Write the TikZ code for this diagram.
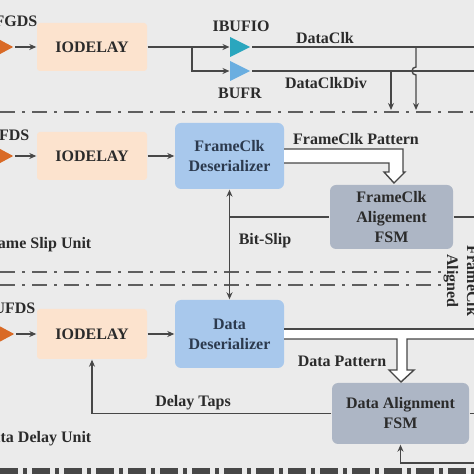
\documentclass[tikz,border=0pt]{standalone}
\usepackage{fontspec}
\setmainfont{Liberation Serif}
\usepackage{xcolor}
\usetikzlibrary{shapes.geometric,arrows.meta,positioning}

\definecolor{bgGray}{HTML}{EBEBEB}
\definecolor{ioFill}{HTML}{FCE3CE}
\definecolor{desFill}{HTML}{A8C8EC}
\definecolor{fsmFill}{HTML}{ADB6C5}
\definecolor{inOrange}{HTML}{D96A26}
\definecolor{ioTeal}{HTML}{2AA6BE}
\definecolor{rBlue}{HTML}{6AAEE0}
\definecolor{wireGray}{HTML}{474747}
\definecolor{sepGray}{HTML}{5E5E5E}
\definecolor{txtDark}{HTML}{2B2B2B}
\definecolor{txtBlue}{HTML}{2C3A4E}

\begin{document}
\begin{tikzpicture}[x=1pt,y=1pt,>={Stealth[length=7pt,width=6pt]},line width=1.4pt,draw=wireGray,
    font=\bfseries\fontsize{16}{20}\selectfont,
    io node/.style={rectangle,rounded corners=3pt,fill=ioFill,text=txtDark,minimum width=110pt,minimum height=48pt},
    des node/.style={rectangle,rounded corners=6pt,fill=desFill,text=txtBlue,align=center,minimum width=109pt,minimum height=66pt},
    fsm node/.style={rectangle,rounded corners=6pt,fill=fsmFill,text=txtDark,align=center},
    in buf/.style={isosceles triangle,isosceles triangle stretches,fill=inOrange,minimum width=30pt,minimum height=28pt,inner sep=0pt,anchor=apex},
    clk buf/.style={isosceles triangle,isosceles triangle stretches,minimum width=20pt,minimum height=20pt,inner sep=0pt,anchor=apex},
    lbl/.style={text=txtDark,inner sep=0pt},
    sep line/.style={draw=sepGray,line width=1.5pt,dash pattern=on 15pt off 7pt on 3pt off 7pt}]

            \fill[bgGray] (0,0) rectangle (474,474);
            \useasboundingbox (0,0) rectangle (474,474);

            % blocks
            \node[io node] (1) at (92,427) {IODELAY};
            \node[io node] (2) [below of = 1, node distance=109pt] {IODELAY};
            \node[io node] (3) [below of = 2, node distance=178pt, minimum height=50pt] {IODELAY};
            \node[des node] (4) [right of = 2, node distance=137.5pt] {FrameClk\\Deserializer};
            \node[des node] (5) [right of = 3, node distance=137.5pt, minimum height=68pt] {Data\\Deserializer};
            \node[fsm node, minimum width=123pt, minimum height=64pt] (6) at (391.5,257) {FrameClk\\Aligement\\FSM};
            \node[fsm node, minimum width=137pt, minimum height=61pt] (7) at (400.5,60.5) {Data Alignment\\FSM};

            % buffers
            \node[clk buf, fill=ioTeal] (8) at (252,427) {};
            \node[clk buf, fill=rBlue] (9) at (252,403) {};
            \node[in buf] (10) at (15,427) {};
            \node[in buf] (11) at (15,318) {};
            \node[in buf] (12) at (16,140) {};

            % labels
            \node[lbl, anchor=east] (13) at (38,453) {IBUFGDS};
            \node[lbl, anchor=east] (14) at (30,339) {IBUFDS};
            \node[lbl, anchor=east] (15) at (36,166) {IBUFDS};
            \node[lbl, anchor=east] (16) at (92,229) {Frame Slip Unit};
            \node[lbl, anchor=east] (17) at (92,35) {Data Delay Unit};
            \node[lbl] (18) at (241,448) {IBUFIO};
            \node[lbl] (19) at (240,381) {BUFR};
            \node[lbl] (20) at (325,436) {DataClk};
            \node[lbl] (21) at (326,391) {DataClkDiv};
            \node[lbl] (22) at (356,335) {FrameClk Pattern};
            \node[lbl] (23) at (265,233) {Bit-Slip};
            \node[lbl] (24) at (342,113) {Data Pattern};
            \node[lbl] (25) at (193,71) {Delay Taps};
            \node[lbl, rotate=-90, align=center] (26) at (461,193) {FrameClk\\Aligned};

            % unit borders
            \draw[sep line] (0,362) -- (474,362);
            \draw[sep line] (0,202) -- (443,202);
            \draw[sep line] (0,189) -- (443,189);
            \draw[draw=wireGray, line width=8pt, dash pattern=on 18pt off 5pt on 4pt off 5pt] (0,2) -- (474,2);

            % free ends
            \coordinate (e1) at (474,427);
            \coordinate (e2) at (474,403);
            \coordinate (e3) at (474,257);
            \coordinate (e4) at (474,60.5);
            \coordinate (e5) at (474,11);
            \coordinate (b1) at (192,427);
            \coordinate (d1) at (391,364);
            \coordinate (d2) at (416,364);

            \path[->]
                (10.apex) edge (1)
                (11.apex) edge (2)
                (12.apex) edge (3)
                (1) edge (8.west)
                (2) edge (4)
                (3) edge (5)
                (4) edge[<->] (5)
            ;
            \draw[->] (b1) |- (9.west);
            \draw (8.apex) -- (e1);
            \draw (9.apex) -- (e2);
            \draw[->] (391,403) -- (d1);
            \draw[->] (416,427) -- (416,407) arc[start angle=90, end angle=270, radius=4] -- (d2);
            \draw (4.south |- 6.west) -- (6.west);
            \draw (6.east) -- (e3);
            \draw (7.east) -- (e4);
            \draw[->] (7.west) -| (3.south);
            \draw[->] (e5) -| (7.south);

            % pattern buses
            \fill[white] (284,325) -- (403,325) -- (403,302) -- (405,302) -- (394,291) -- (384,302) -- (389,302) -- (389,311) -- (284,311) -- cycle;
            \draw (284,325) -- (403,325) -- (403,302) -- (405,302) -- (394,291) -- (384,302) -- (389,302) -- (389,311) -- (284,311);
            \fill[white] (284,145) -- (474,145) -- (474,135) -- (407,135) -- (407,104) -- (414,104) -- (401,92) -- (389,104) -- (397,104) -- (397,135) -- (284,135) -- cycle;
            \draw (284,145) -- (474,145);
            \draw (284,135) -- (397,135) -- (397,104) -- (389,104) -- (401,92) -- (414,104) -- (407,104) -- (407,135) -- (474,135);
        \end{tikzpicture}
\end{document}
